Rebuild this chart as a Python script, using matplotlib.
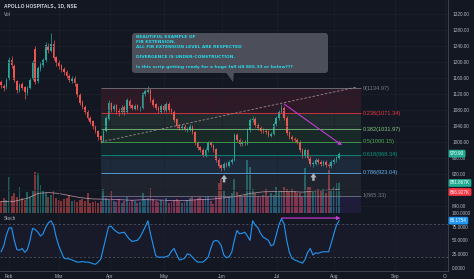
import numpy as np
import matplotlib
matplotlib.use("Agg")
import matplotlib.pyplot as plt
from matplotlib import patches, transforms

plt.rcParams['font.family'] = ['Liberation Sans', 'DejaVu Sans']

W, H = 474, 279
bg = '#131722'
up_col = '#26a69a'
dn_col = '#ef5350'
txt_col = '#b2b5be'
grid_col = '#1c202b'
sep_col = '#434651'

# daily candles, late Jan -> early Aug
opens = [1150, 1140, 1138, 1160, 1205, 1190, 1152, 1128, 1145, 1138,
         1122, 1136, 1158, 1232, 1152, 1183, 1192, 1205, 1240, 1228,
         1245, 1212, 1198, 1192, 1182, 1176, 1166, 1152, 1160, 1145,
         1118, 1099, 1088, 1076, 1061, 1052, 1038, 1028, 1014, 1003,
         1028, 1058, 1097, 1082, 1092, 1078, 1074, 1088, 1076, 1103,
         1092, 1083, 1092, 1084, 1086, 1120, 1126, 1130, 1106, 1094,
         1086, 1076, 1091, 1078, 1096, 1082, 1076, 1057, 1042, 1034,
         1041, 1030, 1031, 1040, 1026, 998, 987, 981, 966, 979,
         998, 993, 982, 956, 942, 934, 946, 941, 949, 956,
         1018, 1006, 994, 1001, 996, 1030, 1054, 1058, 1043, 1036,
         1028, 1028, 1026, 1016, 1020, 1044, 1060, 1076, 1085, 1061,
         1024, 1013, 1008, 1006, 1001, 981, 964, 979, 961, 944,
         946, 956, 951, 944, 951, 943, 939, 949, 954, 960]
closes = [1142, 1135, 1155, 1205, 1192, 1155, 1130, 1142, 1135, 1125,
          1135, 1155, 1200, 1150, 1185, 1195, 1205, 1242, 1230, 1245,
          1210, 1197, 1190, 1180, 1175, 1165, 1155, 1160, 1147, 1117,
          1097, 1087, 1075, 1060, 1050, 1037, 1027, 1012, 1005, 1027,
          1060, 1097, 1080, 1090, 1075, 1075, 1085, 1075, 1105, 1090,
          1085, 1090, 1085, 1085, 1122, 1127, 1130, 1105, 1092, 1085,
          1077, 1090, 1080, 1095, 1080, 1075, 1055, 1040, 1035, 1040,
          1032, 1032, 1040, 1025, 997, 985, 980, 967, 980, 997,
          992, 980, 955, 940, 935, 945, 942, 950, 955, 1017,
          1005, 995, 1000, 997, 1030, 1055, 1057, 1042, 1035, 1027,
          1027, 1025, 1017, 1020, 1045, 1060, 1075, 1085, 1060, 1022,
          1012, 1007, 1005, 1000, 980, 965, 980, 960, 945, 947,
          955, 950, 945, 950, 942, 940, 950, 955, 962, 970.9]
highs = [1156, 1146, 1160, 1212, 1214, 1194, 1156, 1148, 1150, 1141,
         1140, 1160, 1206, 1240, 1190, 1200, 1210, 1250, 1248, 1272,
         1255, 1216, 1204, 1196, 1188, 1180, 1170, 1166, 1164, 1148,
         1122, 1104, 1092, 1080, 1066, 1055, 1042, 1031, 1017, 1032,
         1066, 1104, 1100, 1096, 1096, 1084, 1092, 1092, 1110, 1108,
         1096, 1095, 1096, 1090, 1126, 1132, 1140, 1134, 1110, 1098,
         1090, 1095, 1094, 1100, 1099, 1086, 1079, 1060, 1046, 1045,
         1044, 1037, 1044, 1043, 1028, 1002, 991, 984, 985, 1002,
         1003, 996, 985, 960, 946, 950, 950, 955, 960, 1022,
         1022, 1010, 1006, 1005, 1035, 1060, 1064, 1062, 1047, 1040,
         1034, 1032, 1030, 1025, 1050, 1066, 1080, 1095, 1090, 1064,
         1028, 1017, 1013, 1010, 1004, 985, 985, 982, 965, 952,
         960, 960, 955, 955, 955, 948, 954, 960, 966, 976]
lows = [1136, 1128, 1132, 1155, 1186, 1150, 1122, 1124, 1130, 1108,
        1118, 1132, 1154, 1145, 1148, 1178, 1188, 1200, 1222, 1224,
        1205, 1190, 1183, 1175, 1168, 1160, 1150, 1147, 1140, 1112,
        1092, 1082, 1070, 1055, 1044, 1032, 1022, 1006, 998, 1000,
        1024, 1054, 1075, 1078, 1070, 1066, 1070, 1068, 1072, 1086,
        1080, 1079, 1080, 1078, 1082, 1116, 1122, 1100, 1087, 1080,
        1072, 1072, 1075, 1074, 1075, 1070, 1050, 1035, 1030, 1030,
        1027, 1026, 1027, 1020, 992, 980, 974, 962, 962, 975,
        987, 975, 950, 934, 928, 930, 937, 938, 945, 952,
        1000, 990, 990, 992, 993, 1026, 1050, 1038, 1030, 1022,
        1022, 1020, 1012, 1012, 1017, 1040, 1056, 1072, 1056, 1018,
        1007, 1002, 1000, 995, 975, 960, 960, 955, 940, 938,
        942, 945, 940, 940, 938, 934, 935, 945, 950, 957]
# volume in thousands
volumes = [350, 420, 380, 1060, 500, 560, 470, 760, 440, 380,
           590, 470, 620, 1180, 1150, 800, 620, 560, 470, 530,
           640, 420, 380, 350, 410, 440, 530, 350, 380, 320,
           380, 410, 350, 560, 290, 320, 350, 290, 330, 680,
           440, 380, 620, 350, 320, 410, 290, 350, 470, 320,
           380, 350, 290, 320, 560, 410, 440, 730, 410, 350,
           320, 380, 350, 440, 290, 320, 380, 410, 350, 290,
           320, 380, 440, 470, 380, 440, 470, 410, 470, 500,
           350, 260, 470, 880, 1000, 620, 410, 470, 560, 1000,
           600, 530, 470, 530, 1560, 1350, 680, 560, 500, 470,
           530, 680, 470, 560, 530, 760, 590, 620, 760, 700,
           590, 680, 620, 560, 560, 500, 1320, 760, 760, 590,
           640, 680, 620, 680, 560, 1260, 620, 760, 880, 882]
vol_ma_idx = [-3, 2, 7, 11, 15, 19, 23, 27, 32, 37, 42, 47, 52, 57, 62,
              67, 72, 77, 82, 87, 92, 97, 102, 107, 112, 117, 122, 126]
vol_ma = [320, 330, 420, 560, 590, 560, 500, 440, 400, 390, 380, 360, 380,
          370, 350, 350, 380, 390, 430, 480, 560, 610, 620, 620, 600, 640,
          660, 680]
stoch_k = [29, 40, 60, 73, 73, 50, 33, 32, 35, 28,
           33, 50, 72, 70, 65, 58, 62, 74, 82, 86,
           78, 56, 40, 28, 17, 16, 16, 14, 12, 10,
           10, 11, 10, 10, 9, 7, 6, 10, 15, 35,
           55, 75, 76, 70, 66, 63, 64, 65, 58, 52,
           48, 49, 50, 56, 65, 75, 86, 62, 42, 22,
           19, 19, 19, 20, 22, 30, 35, 24, 14, 15,
           17, 25, 24, 19, 14, 10, 10, 10, 14, 19,
           35, 48, 50, 48, 40, 23, 18, 20, 28, 50,
           68, 62, 63, 65, 58, 50, 86, 78, 73, 63,
           56, 53, 50, 40, 42, 60, 78, 90, 80, 50,
           28, 17, 14, 12, 10, 8, 15, 28, 35, 23,
           27, 26, 28, 29, 29, 29, 45, 62, 78, 86.1754]

month_pos = [0, 19.1, 38.5, 59.2, 81.3, 102.3, 124, 147.3, 166.4]
month_labels = ['Feb', 'Mar', 'Apr', 'May', 'Jun', 'Jul', 'Aug', 'Sep', 'O']
price_ticks = [840, 880, 920, 960, 1000, 1040, 1080, 1120, 1160, 1200, 1240, 1280, 1320]
stoch_ticks = [0, 25, 50, 75, 100]

fib_levels = [0, 0.236, 0.382, 0.5, 0.618, 0.786, 1]
fib_prices = [1134.97, 1071.34, 1031.97, 1000.15, 968.34, 923.04, 865.33]
fib_colors = ['#787b86', '#f23645', '#81c784', '#4caf50', '#089981', '#64b5f6', '#787b86']

note_lines = ["BEAUTIFUL EXAMPLE OF", "FIB EXTENSION.", "ALL FIB EXTENSION LEVEL ARE RESPECTED",
              "DIVERGENCE IS UNDER-CONSTRUCTION.",
              "Is this scrip getting ready for a huge fall till 865.33 or below???"]

idx = np.arange(-3, -3 + len(closes))
o = np.array(opens, float)
c = np.array(closes, float)
cols = [up_col if cc >= oo else dn_col for oo, cc in zip(o, c)]

fig = plt.figure(figsize=(W / 100, H / 100), dpi=100, facecolor=bg)
# pixel coords measured from the top-left corner
px = transforms.Affine2D().scale(1, -1).translate(0, H)

main_rect = [0, 1 - 212.5 / H, 448 / W, 212.5 / H]
xlim = (-3.44, 167.56)

# volume (behind)
axv = fig.add_axes(main_rect, facecolor=bg)
axv.bar(idx, volumes, width=0.72, color=cols, alpha=0.5, linewidth=0)
axv.plot(vol_ma_idx, vol_ma, color='#e3b6c2', lw=0.6, alpha=0.7)
axv.set_xlim(*xlim)
axv.set_ylim(0, 6262)
axv.axis('off')

# price pane
ax = fig.add_axes(main_rect)
ax.patch.set_visible(False)
ax.set_xlim(*xlim)
ax.set_ylim(823.75, 1355)
ax.vlines(idx, lows, highs, colors=cols, lw=0.5)
ax.bar(idx, np.maximum(np.abs(c - o), 0.8), bottom=np.minimum(o, c), width=0.62, color=cols, linewidth=0)

# fib extension
fx0, fx1 = 35.1, 134.4
for i in range(len(fib_levels)):
    ax.hlines(fib_prices[i], fx0, fx1, color=fib_colors[i], lw=0.7, alpha=0.8)
    ax.text(fx1 + 0.6, fib_prices[i], f"{fib_levels[i]:g}({fib_prices[i]:.2f})",
            color=fib_colors[i], fontsize=4.1, va='center', ha='left')
    if i > 0:
        ax.fill_between([fx0, fx1], fib_prices[i], fib_prices[i - 1],
                        color=fib_colors[i], alpha=0.12, lw=0)
ax.fill_between([fx0, fx1], 823.75, fib_prices[-1], color='#7b4dff', alpha=0.11, lw=0)

ax.plot([35, 132.5], [1000, 1137], color='#a08890', lw=0.6, ls=(0, (3, 2)))
ax.annotate('', xy=(127.1, 992), xytext=(105, 1095),
            arrowprops=dict(arrowstyle='-|>', color='#c23bd6', lw=0.8,
                            mutation_scale=5, shrinkA=0, shrinkB=0))
for ax_x, tip, base in [(82.1, 918, 899), (116.2, 922, 903)]:
    ax.annotate('', xy=(ax_x, tip), xytext=(ax_x, base),
                arrowprops=dict(arrowstyle='simple,head_width=0.9,head_length=0.6,tail_width=0.35',
                                fc='#b2b5be', ec='none', mutation_scale=5, shrinkA=0, shrinkB=0))

ax.set_xticks(month_pos)
ax.set_xticklabels([])
ax.yaxis.tick_right()
ax.set_yticks(price_ticks)
ax.set_yticklabels([f"{v:.2f}" for v in price_ticks])
ax.tick_params(axis='both', length=0, labelsize=3.4, labelcolor=txt_col, pad=3)
ax.grid(color=grid_col, lw=0.5)
for s in ['top', 'left']:
    ax.spines[s].set_visible(False)
for s in ['right', 'bottom']:
    ax.spines[s].set_color(sep_col)
    ax.spines[s].set_linewidth(0.6)

# stochastic pane
ax2 = fig.add_axes([0, 1 - 271 / H, 448 / W, 58 / H], facecolor=bg)
ax2.set_xlim(*xlim)
ax2.set_ylim(-6.4, 100.3)
ax2.fill_between(xlim, 20, 80, color='#7e57c2', alpha=0.05, lw=0)
ax2.axhline(80, color='#5d606b', lw=0.5, ls=(0, (3, 3)))
ax2.axhline(20, color='#5d606b', lw=0.5, ls=(0, (3, 3)))
ax2.plot(idx, stoch_k, color='#2196f3', lw=0.8)
ax2.annotate('', xy=(126.5, 91), xytext=(104, 91),
             arrowprops=dict(arrowstyle='-|>', color='#d13be0', lw=0.8,
                             mutation_scale=5, shrinkA=0, shrinkB=0))
ax2.set_xticks(month_pos)
ax2.set_xticklabels(month_labels)
ax2.yaxis.tick_right()
ax2.set_yticks(stoch_ticks)
ax2.set_yticklabels([f"{v:.4f}" for v in stoch_ticks])
ax2.tick_params(axis='both', length=0, labelsize=3.4, labelcolor=txt_col, pad=2.5)
ax2.grid(axis='x', color=grid_col, lw=0.5)
for s in ['top', 'left']:
    ax2.spines[s].set_visible(False)
for s in ['right', 'bottom']:
    ax2.spines[s].set_color(sep_col)
    ax2.spines[s].set_linewidth(0.6)

# last-value tags on the right scale
def tag(y, text, color):
    fig.text(450, y, text, transform=px, fontsize=3.3, color='white', va='center', ha='left',
             bbox=dict(boxstyle='round,pad=0.3,rounding_size=0.3', fc=color, ec='none'))

tag((1355 - closes[-1]) / 2.5, f"{closes[-1]:.2f}", '#22ab94')
tag(183, "881.867K", '#22ab94')
tag(192, "866.927K", '#f23645')
tag(213 + (100.3 - stoch_k[-1]) * 58 / 106.7, f"{stoch_k[-1]:.4f}", '#2196f3')

# headers
fig.text(4, 6, "APOLLO HOSPITALS., 1D, NSE", transform=px, fontsize=3.5, color='#d1d4dc',
         va='center', ha='left', fontweight='bold')
fig.text(4, 14, "Vol", transform=px, fontsize=3.4, color=txt_col, va='center', ha='left')
fig.text(4, 219, "Stoch", transform=px, fontsize=3.4, color=txt_col, va='center', ha='left')

# callout
box = patches.FancyBboxPatch((132, 33), 196, 40, boxstyle='round,pad=0,rounding_size=3',
                             transform=px, fc='#50535e', ec='none', alpha=0.95)
fig.add_artist(box)
fig.add_artist(patches.Polygon([(226, 72.5), (234, 72.5), (233, 82)], closed=True,
                               transform=px, fc='#50535e', ec='none', alpha=0.95))
for ty, line in zip([36.5, 42, 47.5, 57, 67], note_lines):
    fig.text(136, ty, line, transform=px, fontsize=3.2, color='#28d7e6', family='DejaVu Sans',
             fontweight='bold', va='center', ha='left')

fig.savefig("out.png", dpi=100, facecolor=bg)
